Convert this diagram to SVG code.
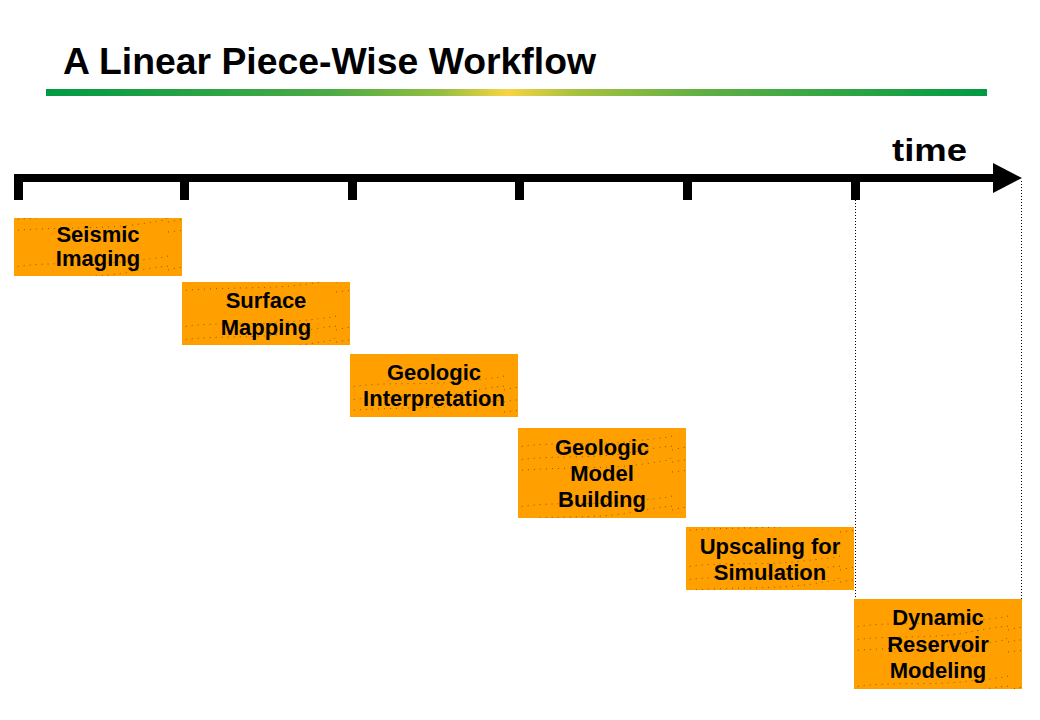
<svg xmlns="http://www.w3.org/2000/svg" width="1040" height="720" viewBox="0 0 1040 720">
  <style>
    .title { font-family: "Liberation Sans", Arial, sans-serif; font-weight: bold; font-size: 36px; fill: #000; }
    .lbl { font-family: "Liberation Sans", Arial, sans-serif; font-weight: bold; font-size: 22px; fill: #000; text-anchor: middle; }
    .box { fill: #FFA000; }
    .tex { fill: url(#tex); }
    .dot { fill: none; stroke: #000; stroke-width: 1; stroke-dasharray: 1 2; }
  </style>
  <defs>
    <linearGradient id="bar" x1="0" y1="0" x2="1" y2="0">
      <stop offset="0" stop-color="#009A44"/>
      <stop offset="0.3" stop-color="#4BAA45"/>
      <stop offset="0.42" stop-color="#94BE42"/>
      <stop offset="0.49" stop-color="#F8D444"/>
      <stop offset="0.56" stop-color="#A9C13F"/>
      <stop offset="0.7" stop-color="#5EAF43"/>
      <stop offset="1" stop-color="#009A44"/>
    </linearGradient>
    <pattern id="tex" patternUnits="userSpaceOnUse" width="168" height="60">
      <g fill="none" stroke="#5a3a00" stroke-width="1" stroke-dasharray="1 5" opacity="0.7">
        <path d="M0 30 C40 20 80 26 120 22 S160 18 168 16"/>
        <path d="M0 42 C40 34 90 40 130 32 S160 28 168 26"/>
        <path d="M0 52 C50 46 100 50 140 44 S160 40 168 38"/>
      </g>
    </pattern>
  </defs>

  <g id="title">
    <text class="title" x="63" y="74" textLength="533" lengthAdjust="spacingAndGlyphs">A Linear Piece-Wise Workflow</text>
    <rect x="46" y="89" width="941" height="7" fill="url(#bar)"/>
  </g>

  <g id="timeline">
    <rect x="14" y="174" width="982" height="8" fill="#000"/>
    <polygon points="993,163 1022,178 993,193" fill="#000"/>
    <rect x="14" y="178" width="9" height="22" fill="#000"/>
    <rect x="180" y="178" width="9" height="22" fill="#000"/>
    <rect x="348" y="178" width="9" height="22" fill="#000"/>
    <rect x="515" y="178" width="9" height="22" fill="#000"/>
    <rect x="683" y="178" width="9" height="22" fill="#000"/>
    <rect x="851" y="178" width="9" height="22" fill="#000"/>
    <text x="892" y="161" font-family="Liberation Sans, Arial, sans-serif" font-weight="bold" font-size="32" textLength="75" lengthAdjust="spacingAndGlyphs">time</text>
  </g>

  <g id="connectors">
    <path class="dot" d="M855.5 200 V688.5 H1021.5 V180"/>
  </g>

  <g id="n1">
    <rect class="box" x="14" y="218" width="168" height="58"/>
    <rect class="tex" x="14" y="218" width="168" height="58"/>
    <text class="lbl" x="98" y="242">Seismic</text>
    <text class="lbl" x="98" y="266">Imaging</text>
  </g>
  <g id="n2">
    <rect class="box" x="182" y="282" width="168" height="63"/>
    <rect class="tex" x="182" y="282" width="168" height="63"/>
    <text class="lbl" x="266" y="308">Surface</text>
    <text class="lbl" x="266" y="335">Mapping</text>
  </g>
  <g id="n3">
    <rect class="box" x="350" y="354" width="168" height="63"/>
    <rect class="tex" x="350" y="354" width="168" height="63"/>
    <text class="lbl" x="434" y="380">Geologic</text>
    <text class="lbl" x="434" y="406">Interpretation</text>
  </g>
  <g id="n4">
    <rect class="box" x="518" y="428" width="168" height="90"/>
    <rect class="tex" x="518" y="428" width="168" height="90"/>
    <text class="lbl" x="602" y="455">Geologic</text>
    <text class="lbl" x="602" y="481">Model</text>
    <text class="lbl" x="602" y="507">Building</text>
  </g>
  <g id="n5">
    <rect class="box" x="686" y="527" width="168" height="63"/>
    <rect class="tex" x="686" y="527" width="168" height="63"/>
    <text class="lbl" x="770" y="554">Upscaling for</text>
    <text class="lbl" x="770" y="580">Simulation</text>
  </g>
  <g id="n6">
    <rect class="box" x="854" y="599" width="168" height="90"/>
    <rect class="tex" x="854" y="599" width="168" height="90"/>
    <text class="lbl" x="938" y="625">Dynamic</text>
    <text class="lbl" x="938" y="652">Reservoir</text>
    <text class="lbl" x="938" y="678">Modeling</text>
  </g>
</svg>
